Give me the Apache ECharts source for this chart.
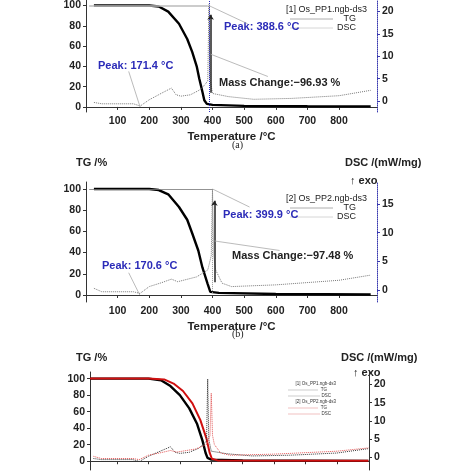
<!DOCTYPE html>
<html><head><meta charset="utf-8">
<script src="https://cdn.jsdelivr.net/npm/echarts@6/dist/echarts.min.js"></script>
<style>html,body{margin:0;padding:0;background:#fff}#c{width:474px;height:474px}</style>
</head><body><div id="c"></div>
<script>
// 温度 / TG / DSC 数据
var tg1 = [[25,100],[100,100],[200,100],[230,99],[260,94],[294,82],[320,67],[336,54],[350,40],[358,28],[368,15],[374,6.6],[382,3],[400,2],[500,1],[700,0.7],[900,0.5]];
var dsc1 = [[25,-0.3],[50,-0.6],[100,-0.6],[150,-0.6],[171.4,-1.1],[200,0.3],[240,1.8],[270,2.9],[285,1.4],[300,1.1],[330,1.4],[360,2.5],[375,3.6],[385,4.5],[388.6,21.5],[392,5],[400,1.7],[450,1.0],[530,0.4],[650,0.6],[800,1.2],[900,2.4]];
var tg2 = [[25,100],[100,100],[200,100],[230,99],[260,95],[294,83],[320,71],[336,58],[355,42],[368,26],[384,11],[393,3],[420,2],[600,1],[900,0.5]];
var dsc2 = [[25,0.3],[50,-0.3],[150,-0.3],[170.6,-0.6],[200,0.6],[240,1.3],[270,1.9],[290,1.45],[350,2.3],[385,3.5],[396,6],[399.9,17.6],[404,6],[410,3.5],[430,1.2],[460,0.6],[600,0.9],[800,1.7],[900,2.6]];
// (c) 对比图中的 TG 曲线
var tgC1 = [[14,100],[100,100],[200,100],[240,98],[270,91],[300,80],[330,64],[355,45],[372,25],[382,10],[388,4],[400,2],[500,1],[900,0.5]];
var tgC2 = [[14,100],[100,100],[200,100],[250,99],[280,94],[310,85],[340,70],[365,50],[385,27],[395,10],[402,3],[420,1],[900,0.5]];
var tgTicks = [0,20,40,60,80,100];
var xTicks = [100,200,300,400,500,600,700,800];

var F = 'Liberation Sans';
var chart = echarts.init(document.getElementById('c'));

function xAx(i, min, max, showName, showLabel) {
  return {type:'value', gridIndex:i, min:min, max:max,
    axisLine:{lineStyle:{color:'#333'}}, splitLine:{show:false},
    axisTick:{customValues:xTicks, length:3, inside:false},
    axisLabel:{show:showLabel, customValues:xTicks, fontFamily:F, fontWeight:'bold', fontSize:10.5, color:'#222', margin:4},
    name: showName ? 'Temperature /°C' : '', nameLocation:'middle', nameGap:19,
    nameTextStyle:{fontFamily:F, fontWeight:'bold', fontSize:11.5, color:'#222'}};
}
function tgAx(i, min, max) {
  return {type:'value', gridIndex:i, min:min, max:max,
    axisLine:{show:true, lineStyle:{color:'#333'}}, splitLine:{show:false},
    axisTick:{customValues:tgTicks, length:3},
    axisLabel:{customValues:tgTicks, fontFamily:F, fontWeight:'bold', fontSize:10.5, color:'#222', margin:5}};
}
function dscAx(i, min, max, ticks, dashed) {
  return {type:'value', gridIndex:i, min:min, max:max, position:'right',
    axisLine:{show:true, lineStyle:{color: dashed ? '#3a3ab0' : '#333', type: dashed ? 'dotted' : 'solid'}},
    splitLine:{show:false},
    axisTick:{customValues:ticks, length:3},
    axisLabel:{customValues:ticks, fontFamily:F, fontWeight:'bold', fontSize:10.5, color:'#222', margin:5}};
}
function ln(name, data, xi, yi, color, w, type) {
  return {name:name, type:'line', xAxisIndex:xi, yAxisIndex:yi, data:data, showSymbol:false,
    lineStyle:{color:color, width:w, type:type||'solid'}, silent:true, z:3};
}
function guide(xi, yi, lines, color, type, w, arrow) {
  return {type:'line', xAxisIndex:xi, yAxisIndex:yi, data:[], silent:true,
    markLine:{symbol: arrow ? ['none','arrow'] : ['none','none'], symbolSize:5, label:{show:false},
      lineStyle:{color:color, type:type, width:w},
      data: lines.map(function(l){ return [{coord:l[0]},{coord:l[1]}]; })}};
}

var blue = '#2b2bb8', txt = {fontFamily:F, fontWeight:'bold', fontSize:11};
function T(x, y, s, c, o) {
  var st = Object.assign({text:s, fill:c||'#222'}, txt, o||{});
  return {type:'text', left:x, top:y, style:st};
}
function R(x, y, s, c, o) { // 右对齐文字
  var st = Object.assign({text:s, fill:c||'#222', align:'right'}, txt, o||{});
  return {type:'text', x:x, y:y, style:st};
}
function seg(x1,y1,x2,y2,c,w){ return {type:'line', shape:{x1:x1,y1:y1,x2:x2,y2:y2}, style:{stroke:c||'#999', lineWidth:w||0.8}}; }
var sm = {fontWeight:'normal', fontSize:9};
var tiny = {fontWeight:'normal', fontSize:4.5};

chart.setOption({
  animation:false,
  grid:[{left:86, top:-5, width:291, height:117},
        {left:86, top:182, width:291, height:120},
        {left:90, top:372, width:279, height:98}],
  xAxis:[xAx(0,0,920,true,true), xAx(1,0,920,true,true), xAx(2,14,902,false,false)],
  yAxis:[tgAx(0,-5,105), dscAx(0,-2.43,22.43,[0,5,10,15,20],true),
         tgAx(1,-6.6,106.6), dscAx(1,-2.09,18.85,[0,5,10,15],true),
         tgAx(2,-10.6,108), dscAx(2,-3.45,23.4,[0,5,10,15,20],false)],
  series:[
    ln('TG', tg1, 0, 0, '#000', 2.4),
    ln('DSC', dsc1, 0, 1, '#777', 1, 'dotted'),
    guide(0,0,[[[10,100],[385,100]]],'#bbb','solid',1.5),
    guide(0,1,[[[388.6,-2.43],[388.6,22.43]]],blue,'dotted',1),
    guide(0,0,[[[394,14],[394,91]]],'#222','solid',1.5,true),
    guide(0,0,[[[171,0],[135,35]],[[388,100],[511,82]],[[394,52],[575,30]]],'#aaa','solid',0.8),

    ln('TG', tg2, 1, 2, '#000', 2.4),
    ln('DSC', dsc2, 1, 3, '#777', 1, 'dotted'),
    guide(1,2,[[[10,100],[400,100]]],'#777','solid',0.8),
    guide(1,3,[[[399.9,-0.5],[399.9,17.6]]],'#999','dotted',1),
    guide(1,2,[[[406,12],[406,89]]],'#222','solid',1.5,true),
    guide(1,2,[[[170,0],[135,21]],[[400,100],[517,83]],[[406,51],[612,42]]],'#aaa','solid',0.8),

    ln('TG', tgC1, 2, 4, '#000', 2.4),
    ln('TG', tgC2, 2, 4, '#d01010', 2),
    ln('DSC', dsc1, 2, 5, '#333', 1, 'dotted'),
    ln('DSC', dsc2, 2, 5, '#e05050', 1, 'dotted')
  ],
  graphic:[
    R(367,5,'[1] Os_PP1.ngb-ds3','#222',sm),
    R(356,14,'TG','#222',sm), seg(290,19,333,19,'#999'),
    R(356,23,'DSC','#222',sm), seg(290,28,333,28,'#ccc'),
    T(224,21,'Peak: 388.6 °C',blue), T(98,60,'Peak: 171.4 °C',blue),
    T(219,77,'Mass Change:−96.93 %'),
    T(232,140,'(a)','#222',{fontFamily:'Liberation Serif',fontWeight:'normal',fontSize:10}),

    T(76,157,'TG /%'), T(345,157,'DSC /(mW/mg)'), T(350,175,'↑ exo'),
    R(367,194,'[2] Os_PP2.ngb-ds3','#222',sm),
    R(356,203,'TG','#222',sm), seg(290,208,333,208,'#999'),
    R(356,212,'DSC','#222',sm), seg(290,217,333,217,'#ccc'),
    T(223,209,'Peak: 399.9 °C',blue), T(102,260,'Peak: 170.6 °C',blue),
    T(232,250,'Mass Change:−97.48 %'),
    T(232,329,'(b)','#222',{fontFamily:'Liberation Serif',fontWeight:'normal',fontSize:10}),

    T(76,352,'TG /%'), T(341,352,'DSC /(mW/mg)'), T(353,367,'↑ exo'),
    R(336,381,'[1] Os_PP1.ngb-ds3','#333',tiny),
    R(327,387,'TG','#333',tiny), seg(288,390,318,390,'#999',0.5),
    R(331,393,'DSC','#333',tiny), seg(288,396,320,396,'#999',0.5),
    R(336,399,'[2] Os_PP2.ngb-ds3','#333',tiny),
    R(327,405,'TG','#333',tiny), seg(288,408,318,408,'#e08080',0.5),
    R(331,411,'DSC','#333',tiny), seg(288,414,320,414,'#e08080',0.5)
  ]
});
</script></body></html>
